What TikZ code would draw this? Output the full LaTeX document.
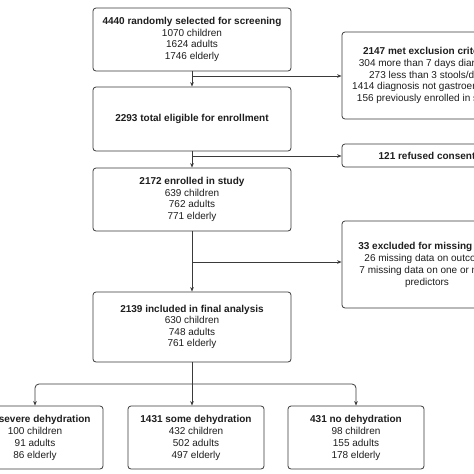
\documentclass[tikz,border=0pt]{standalone}
\usepackage{fontspec}
\setmainfont{Liberation Sans}
\usetikzlibrary{arrows.meta}
\definecolor{linec}{HTML}{3A3A3A}
\definecolor{textc}{HTML}{1E1E1E}
\tikzset{
  box/.style={draw=linec, line width=0.8pt, rounded corners=3pt, align=center,
    inner sep=0pt, text=textc, font=\fontsize{10}{11.5}\selectfont},
  conn/.style={draw=linec, line width=0.8pt},
  arr/.style={conn, -{Stealth[length=4.5pt,width=3.6pt]}},
}
\begin{document}
\begin{tikzpicture}[x=1pt,y=-1pt]
\useasboundingbox (0,0) rectangle (474,474);
\fill[white] (0,0) rectangle (474,474);
\clip (0,0) rectangle (474,474);
\node[box, minimum width=198pt, minimum height=63pt] (b1) at (192,39.5)
  {\textbf{4440 randomly selected for screening}\\1070 children\\1624 adults\\1746 elderly};
\node[box, minimum width=198pt, minimum height=64pt] (b2) at (192,119)
  {\textbf{2293 total eligible for enrollment}};
\node[box, minimum width=198pt, minimum height=63pt] (b3) at (192,199.5)
  {\textbf{2172 enrolled in study}\\639 children\\762 adults\\771 elderly};
\node[box, minimum width=198pt, minimum height=70pt] (b4) at (192,327)
  {\textbf{2139 included in final analysis}\\630 children\\748 adults\\761 elderly};
\node[box, minimum width=170pt, minimum height=87pt, font=\fontsize{10}{11.7}\selectfont] (ex) at (427,75.5)
  {\textbf{2147 met exclusion criteria}\\304 more than 7 days diarrhea\\273 less than 3 stools/day\\1414 diagnosis not gastroenteritis\\156 previously enrolled in study};
\node[box, minimum width=170pt, minimum height=23pt] (rf) at (427,155.5)
  {\textbf{121 refused consent}};
\node[box, minimum width=170pt, minimum height=87pt, font=\fontsize{10}{12}\selectfont] (ms) at (427,264.5)
  {\textbf{33 excluded for missing data}\\26 missing data on outcome\\7 missing data on one or more\\predictors};
\node[box, minimum width=136pt, minimum height=63pt, font=\fontsize{10}{12}\selectfont] (sv) at (35,437.5)
  {\textbf{277 severe dehydration}\\100 children\\91 adults\\86 elderly};
\node[box, minimum width=136pt, minimum height=63pt, font=\fontsize{10}{12}\selectfont] (sm) at (196,437.5)
  {\textbf{1431 some dehydration}\\432 children\\502 adults\\497 elderly};
\node[box, minimum width=136pt, minimum height=63pt, font=\fontsize{10}{12}\selectfont] (nd) at (356,437.5)
  {\textbf{431 no dehydration}\\98 children\\155 adults\\178 elderly};
\coordinate (j1) at (192,76);
\coordinate (j2) at (192,156);
\coordinate (j3) at (192,262);
\coordinate (j4) at (192,384);
\draw[arr] (b1.south -| j1) -- (b2.north -| j1);
\draw[arr] (j1) -- (j1 -| ex.west);
\draw[arr] (b2.south -| j2) -- (b3.north -| j2);
\draw[arr] (j2) -- (j2 -| rf.west);
\draw[arr] (b3.south -| j3) -- (b4.north -| j3);
\draw[arr] (j3) -- (j3 -| ms.west);
\draw[conn] (b4.south -| j4) -- (j4);
\draw[arr, rounded corners=4pt] (j4) -| (sv.north);
\draw[arr] (j4) -- (j4 |- sm.north);
\draw[arr, rounded corners=4pt] (j4) -| (nd.north);
\end{tikzpicture}
\end{document}
